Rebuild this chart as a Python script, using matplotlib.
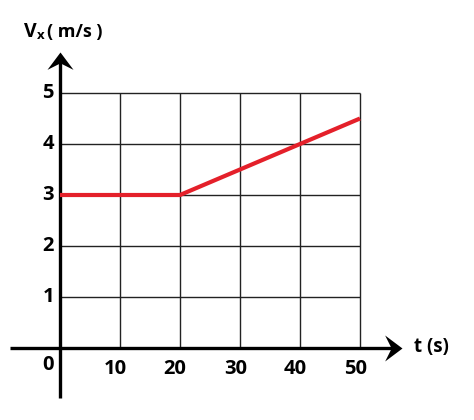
import matplotlib
matplotlib.use("Agg")
import matplotlib.pyplot as plt
from matplotlib.path import Path

# Data
t_values = [0, 20, 50]
v_values = [3, 3, 4.5]
x_ticks = [10, 20, 30, 40, 50]
y_ticks = [1, 2, 3, 4, 5]
x_grid = [0, 10, 20, 30, 40, 50]
y_grid = [0, 1, 2, 3, 4, 5]

W, H = 474, 420
fig = plt.figure(figsize=(W / 100, H / 100), dpi=100)
ax = fig.add_axes([0, 0, 1, 1])
# pixel mapping: x=0 at px 60, 6 px/unit; y=0 at px 348 (from top), 51 px/unit
ax.set_xlim(-60 / 6, (W - 60) / 6)
ax.set_ylim(-(H - 348) / 51, 348 / 51)
ax.axis("off")

FONT = "Open Sans"
FS = 14.5

# grid
ax.vlines(x_grid[1:], 0, 5, color="#222222", lw=1.0, zorder=1)
ax.hlines(y_grid[1:], 0, 50, color="#222222", lw=1.0, zorder=1)

# axes lines
x_tip, y_tip = 56.95, 5.80
ax.plot([-8.33, x_tip - 1.5], [0, 0], color="black", lw=2.4, solid_capstyle="butt", zorder=3)
ax.plot([0, 0], [-0.98, y_tip - 0.15], color="black", lw=2.4, solid_capstyle="butt", zorder=3)

# arrowheads (custom markers, tip at origin)
codes = [Path.MOVETO, Path.LINETO, Path.LINETO, Path.LINETO, Path.CLOSEPOLY]
right_head = Path([(0, 0), (-16, 12), (-10, 0), (-16, -12), (0, 0)], codes)
up_head = Path([(0, 0), (12, -16), (0, -10), (-12, -16), (0, 0)], codes)
ax.plot([x_tip], [0], marker=right_head, markersize=25, color="black",
        markeredgewidth=0, zorder=5)
ax.plot([0], [y_tip], marker=up_head, markersize=25, color="black",
        markeredgewidth=0, zorder=5)

# red line
ax.plot(t_values, v_values, color="#e4202a", lw=3.0, solid_capstyle="butt", zorder=4)

# tick labels
for xt in x_ticks:
    ax.text(xt - 0.8, -0.42, str(xt), ha="center", va="center",
            fontsize=FS, fontweight="bold", family=FONT)
for yt in y_ticks:
    ax.text(-1.0, yt, str(yt), ha="right", va="center",
            fontsize=FS, fontweight="bold", family=FONT)
ax.text(-1.1, -0.34, "0", ha="right", va="center",
        fontsize=FS, fontweight="bold", family=FONT)

# axis labels
ax.text(59.0, 0.02, "t (s)", ha="left", va="center",
        fontsize=13.5, fontweight="bold", family=FONT)
ax.text(-6.0, 6.2, "V", ha="left", va="center",
        fontsize=14, fontweight="bold", family=FONT)
ax.text(-3.8, 6.13, "x", ha="left", va="center",
        fontsize=9.5, fontweight="bold", family=FONT)
ax.text(-2.2, 6.2, "( m/s )", ha="left", va="center",
        fontsize=13, fontweight="bold", family=FONT)

fig.savefig("out.png", dpi=100, facecolor="white")
